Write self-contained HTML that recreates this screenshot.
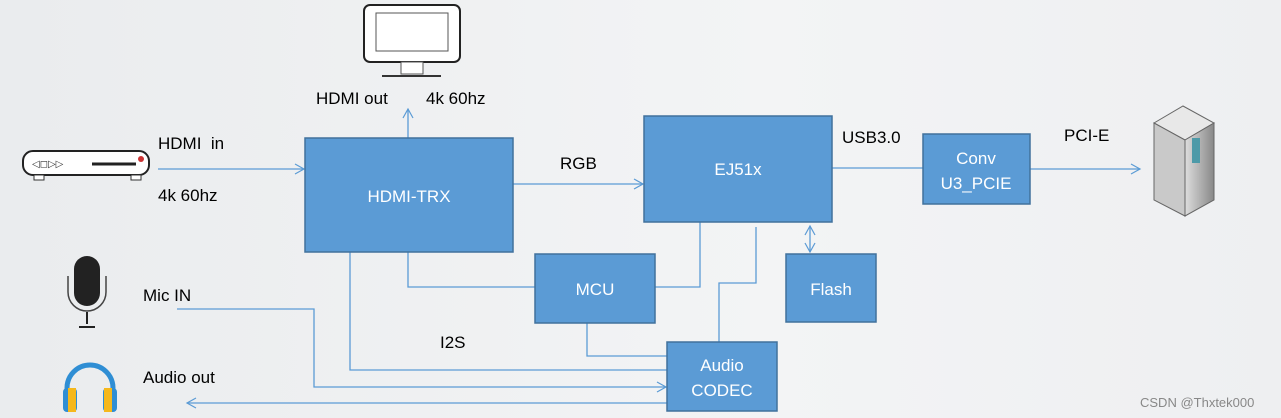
<!DOCTYPE html>
<html><head><style>
body{margin:0;width:1281px;height:418px;overflow:hidden;background:linear-gradient(90deg,#eaecee,#f3f4f5 60%,#eeeff1);font-family:"Liberation Sans",sans-serif}
</style></head><body>
<svg width="1281" height="418" xmlns="http://www.w3.org/2000/svg" style="position:absolute;left:0;top:0">
<defs><marker id="a" markerWidth="12" markerHeight="12" refX="10" refY="6" orient="auto-start-reverse" markerUnits="userSpaceOnUse"><path d="M1,1 L10,6 L1,11" fill="none" stroke="#5b9bd5" stroke-width="1.2"/></marker></defs>
<g fill="none" stroke="#5b9bd5" stroke-width="1.3">
<path d="M158,169 H304" marker-end="url(#a)"/>
<path d="M408,138 V109" marker-end="url(#a)"/>
<path d="M513,184 H643" marker-end="url(#a)"/>
<path d="M832,168 H923"/>
<path d="M1030,169 H1140" marker-end="url(#a)"/>
<path d="M408,252 V287 H535"/>
<path d="M700,222 V287 H655"/>
<path d="M756,227 V283 H719 V342"/>
<path d="M810,226 V252" marker-end="url(#a)" marker-start="url(#a)"/>
<path d="M587,323 V356 H667"/>
<path d="M350,252 V370 H667"/>
<path d="M177,309 H314 V387 H666" marker-end="url(#a)"/>
<path d="M667,403 H187" marker-end="url(#a)"/>
</g>
<g fill="#5b9bd5" stroke="#41719c" stroke-width="1.5">
<rect x="305" y="138" width="208" height="114"/>
<rect x="644" y="116" width="188" height="106"/>
<rect x="923" y="134" width="107" height="70"/>
<rect x="535" y="254" width="120" height="69"/>
<rect x="786" y="254" width="90" height="68"/>
<rect x="667" y="342" width="110" height="69"/>
</g>
<g fill="#fff" font-size="17" text-anchor="middle">
<text x="409" y="202">HDMI-TRX</text>
<text x="738" y="175">EJ51x</text>
<text x="976" y="164">Conv</text>
<text x="976" y="189">U3_PCIE</text>
<text x="595" y="295">MCU</text>
<text x="831" y="295">Flash</text>
<text x="722" y="371">Audio</text>
<text x="722" y="396">CODEC</text>
</g>
<g fill="#000" font-size="17">
<text x="158" y="149">HDMI&#160; in</text>
<text x="158" y="201">4k 60hz</text>
<text x="316" y="104">HDMI out</text>
<text x="426" y="104">4k 60hz</text>
<text x="560" y="169">RGB</text>
<text x="842" y="143">USB3.0</text>
<text x="1064" y="141">PCI-E</text>
<text x="143" y="301">Mic IN</text>
<text x="143" y="383">Audio out</text>
<text x="440" y="348">I2S</text>
</g>
<text x="1140" y="407" font-size="13" fill="#888">CSDN @Thxtek000</text>
<!-- monitor -->
<rect x="364" y="5" width="96" height="57" rx="6" fill="#fff" stroke="#222" stroke-width="2"/>
<rect x="376" y="13" width="72" height="38" fill="#fff" stroke="#555"/>
<rect x="401" y="62" width="22" height="12" fill="#fff" stroke="#555"/>
<line x1="382" y1="76" x2="441" y2="76" stroke="#333" stroke-width="2"/>
<!-- player -->
<rect x="23" y="151" width="126" height="24" rx="10" fill="#fff" stroke="#222" stroke-width="2"/>
<rect x="34" y="175" width="10" height="5" fill="#fff" stroke="#333"/>
<rect x="131" y="175" width="10" height="5" fill="#fff" stroke="#333"/>
<text x="32" y="167" font-size="10" fill="#333">◁◻▷▷</text>
<line x1="92" y1="164" x2="136" y2="164" stroke="#222" stroke-width="3"/>
<circle cx="141" cy="159" r="3" fill="#c33"/>
<!-- mic -->
<rect x="74" y="256" width="26" height="50" rx="13" fill="#222"/>
<path d="M68,276 V292 a19,19 0 0 0 38,0 V276" fill="none" stroke="#444" stroke-width="1.5"/>
<line x1="87" y1="312" x2="87" y2="324" stroke="#222" stroke-width="2"/>
<line x1="79" y1="327" x2="95" y2="327" stroke="#222" stroke-width="2"/>
<!-- headphones -->
<path d="M67,396 V388 a23,23 0 0 1 46,0 V396" fill="none" stroke="#2f8ed4" stroke-width="5"/>
<rect x="63" y="388" width="14" height="24" rx="4" fill="#2f8ed4"/>
<rect x="68" y="388" width="8" height="24" fill="#f5b81c"/>
<rect x="103" y="388" width="14" height="24" rx="4" fill="#2f8ed4"/>
<rect x="104" y="388" width="8" height="24" fill="#f5b81c"/>
<!-- server -->
<defs><linearGradient id="s" x1="0" x2="1"><stop offset="0" stop-color="#ddd"/><stop offset="1" stop-color="#888"/></linearGradient></defs>
<path d="M1154,123 L1183,106 L1214,123 L1185,140 Z" fill="#e8e8e8" stroke="#666"/>
<path d="M1154,123 L1185,140 V216 L1154,200 Z" fill="#c9c9c9" stroke="#666"/>
<path d="M1185,140 L1214,123 V200 L1185,216 Z" fill="url(#s)" stroke="#666"/>
<rect x="1192" y="138" width="8" height="25" fill="#4d9aa8"/>
</svg>
</body></html>
